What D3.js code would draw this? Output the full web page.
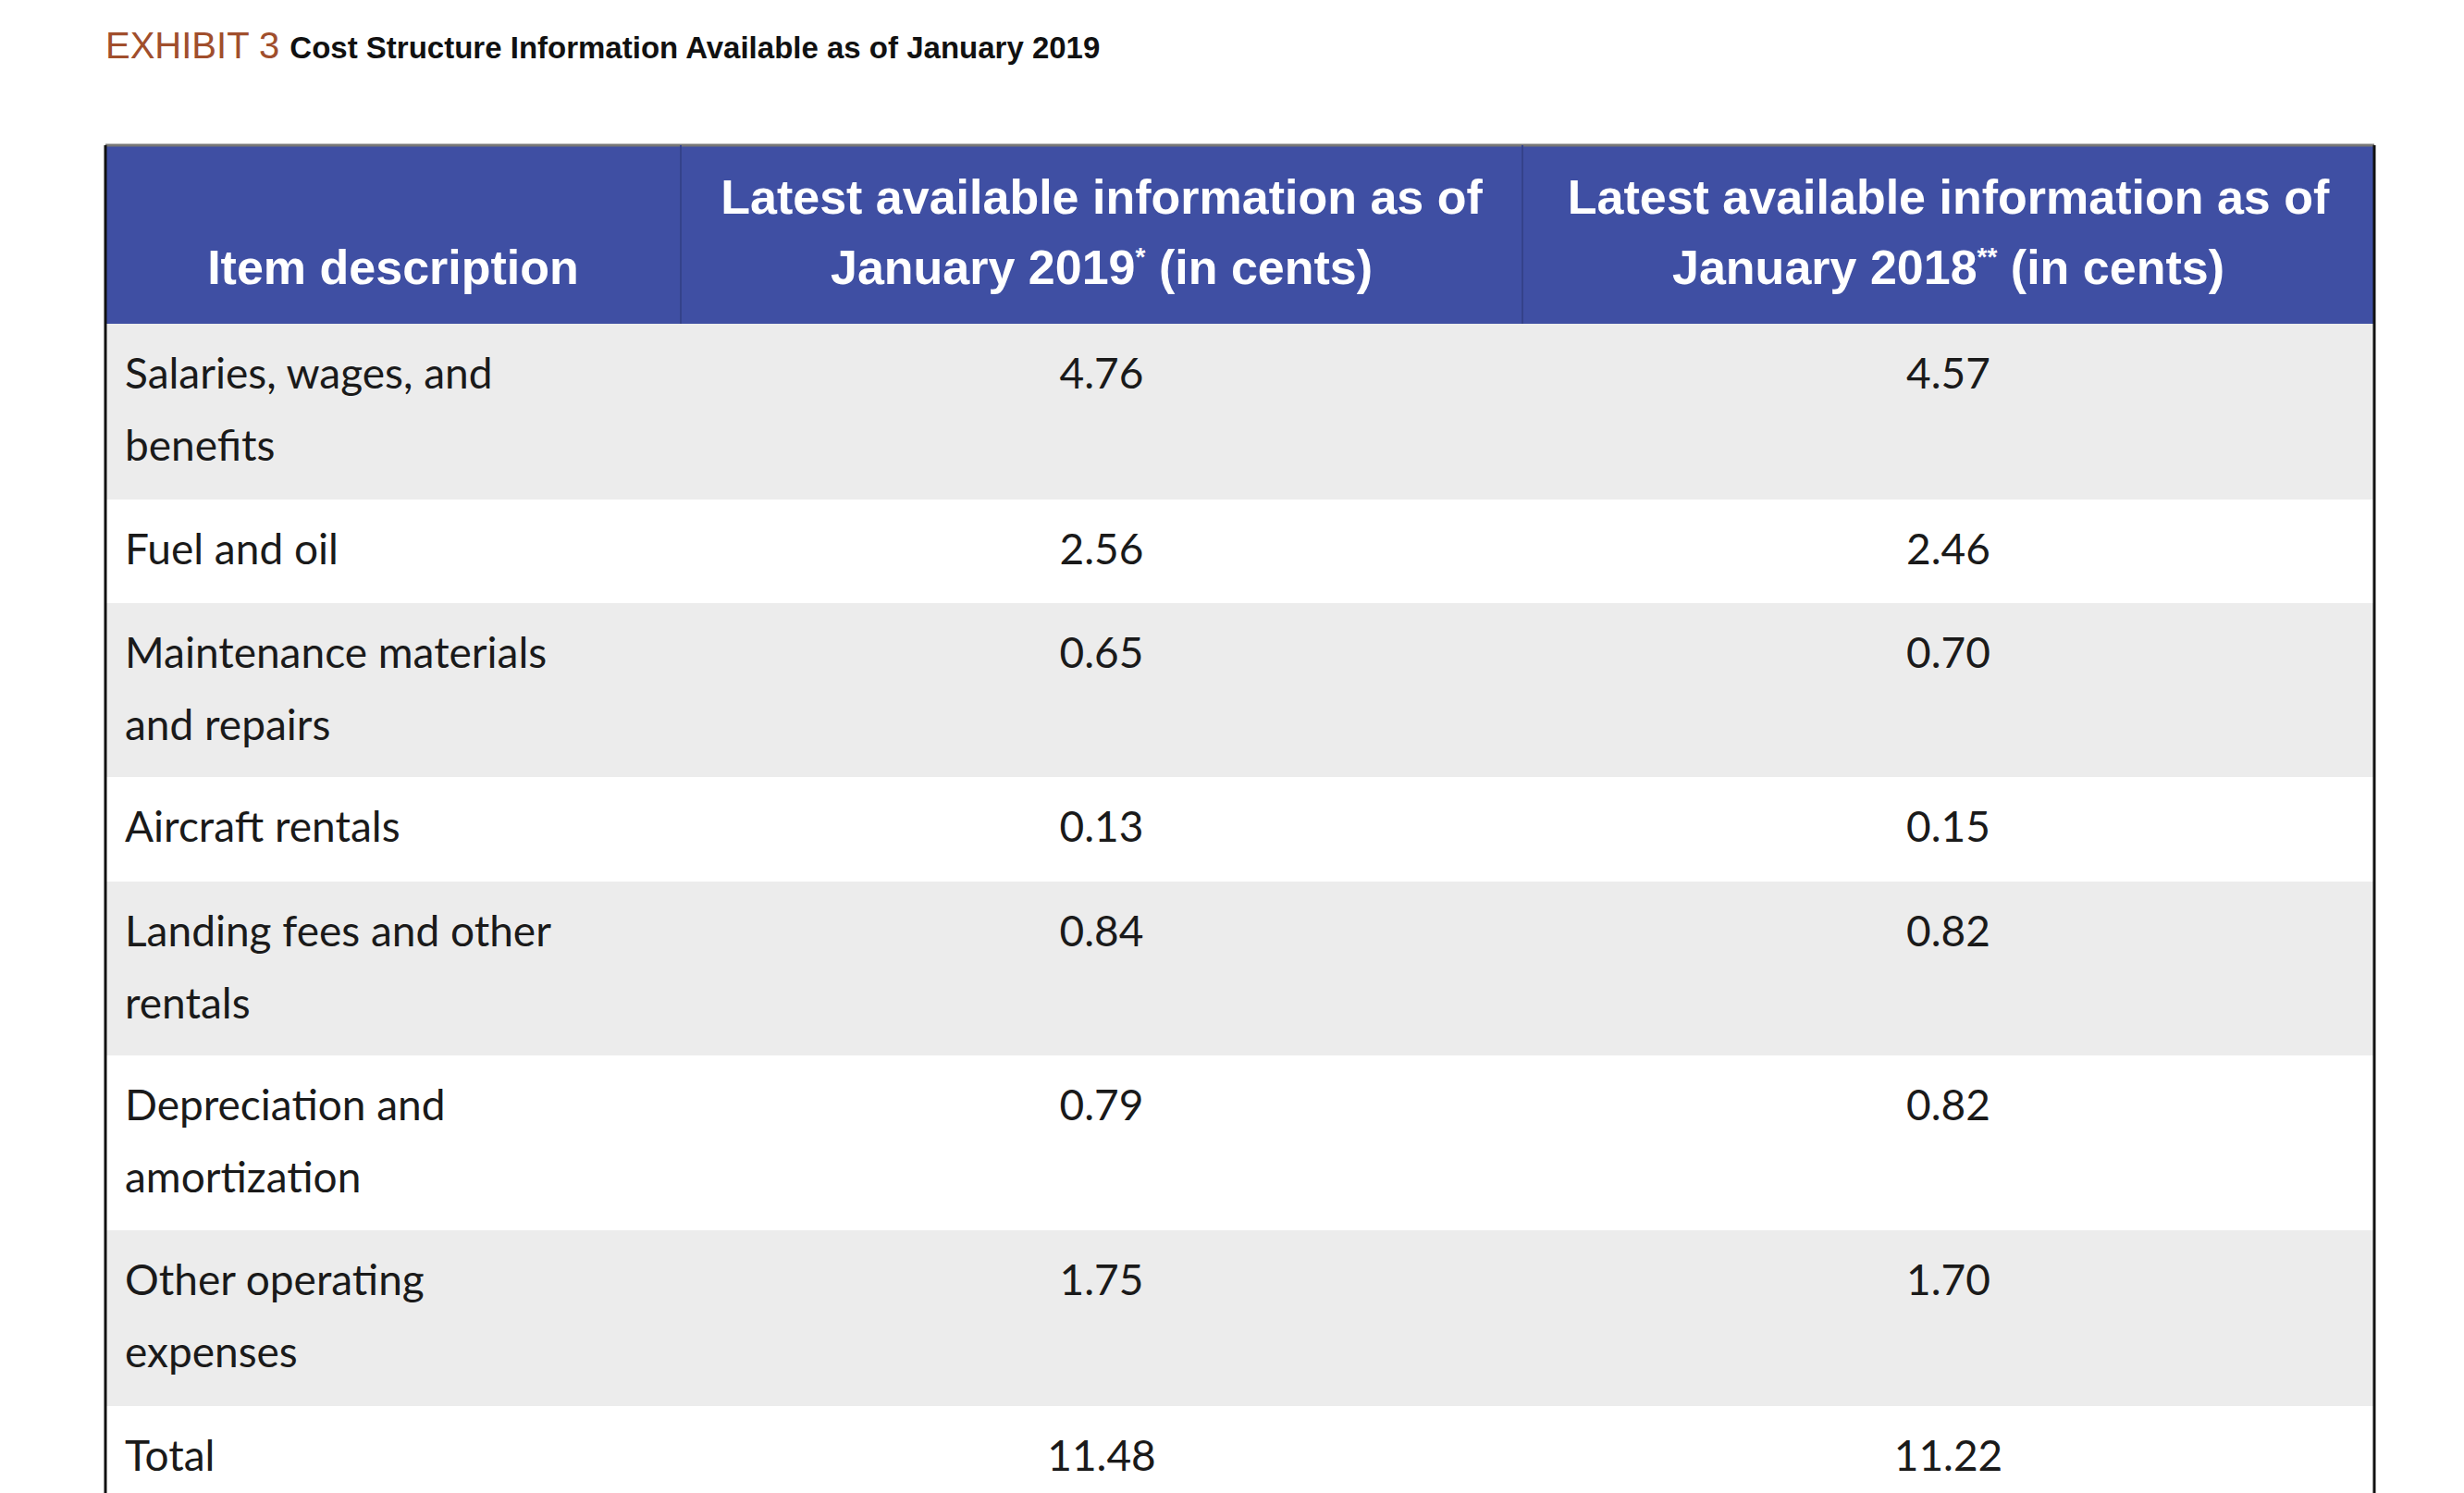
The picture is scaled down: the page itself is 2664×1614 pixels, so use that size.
<!DOCTYPE html>
<html>
<head>
<style>
  body { margin: 0; background: #fff; }
</style>
</head>
<body>
<svg id="tbl" width="2664" height="1614"></svg>
<script src="https://cdn.jsdelivr.net/npm/d3@7"></script>
<script>
// data
const items = [
  ['Salaries, wages, and', 'benefits'],
  ['Fuel and oil'],
  ['Maintenance materials', 'and repairs'],
  ['Aircraft rentals'],
  ['Landing fees and other', 'rentals'],
  ['Depreciation and', 'amortization'],
  ['Other operating', 'expenses'],
  ['Total']
]
const jan2019 = ['4.76', '2.56', '0.65', '0.13', '0.84', '0.79', '1.75', '11.48']
const jan2018 = ['4.57', '2.46', '0.70', '0.15', '0.82', '0.82', '1.70', '11.22']
const rowHeights = [190, 112, 188, 113, 188, 189, 190, 113]

const svg = d3.select('#tbl')
const left = 114, right = 2567, c1 = 736, c2 = 1646
const headTop = 157, headBottom = 350
const narrow = '"Liberation Sans Narrow", "Liberation Sans", sans-serif'
const body = 'Lato, "Open Sans", sans-serif'

// title
const title = svg.append('text').attr('x', left).attr('y', 63).attr('font-family', narrow)
title.append('tspan').attr('fill', '#a04e2c').attr('font-size', 40).text('EXHIBIT 3 ')
title.append('tspan').attr('fill', '#111').attr('font-size', 33).attr('font-weight', 'bold').text('Cost Structure Information Available as of January 2019')

// header
svg.append('rect').attr('x', left).attr('y', headTop).attr('width', right - left).attr('height', headBottom - headTop).attr('fill', '#3f4fa3')
svg.append('line').attr('x1', left).attr('x2', right).attr('y1', headTop).attr('y2', headTop).attr('stroke', '#777').attr('stroke-width', 3)
;[c1, c2].forEach(x => svg.append('line').attr('x1', x).attr('x2', x).attr('y1', headTop).attr('y2', headBottom).attr('stroke', '#34428a').attr('stroke-width', 2))

const hText = (x, y, parts) => {
  const t = svg.append('text').attr('x', x).attr('y', y).attr('text-anchor', 'middle')
    .attr('font-family', narrow).attr('font-weight', 'bold').attr('font-size', 52).attr('fill', '#fff')
  parts.forEach(p => {
    const s = t.append('tspan').text(p[0])
    if (p[1]) s.attr('font-size', 28).attr('dy', -20)
    if (p[2]) s.attr('dy', 20)
  })
}
hText((left + c1) / 2, 307, [['Item description']])
hText((c1 + c2) / 2, 231, [['Latest available information as of']])
hText((c1 + c2) / 2, 307, [['January 2019'], ['*', true], [' (in cents)', false, true]])
hText((c2 + right) / 2, 231, [['Latest available information as of']])
hText((c2 + right) / 2, 307, [['January 2018'], ['**', true], [' (in cents)', false, true]])

// rows
const tops = []
rowHeights.reduce((acc, h) => { tops.push(acc); return acc + h }, headBottom)

const rows = svg.selectAll('g.row').data(items).enter().append('g')
  .attr('transform', (d, i) => `translate(0,${tops[i]})`)
rows.append('rect').attr('x', left).attr('width', right - left)
  .attr('height', (d, i) => rowHeights[i])
  .attr('fill', (d, i) => i % 2 === 0 && i < 7 ? '#ececec' : '#fff')
rows.each(function (d, i) {
  const g = d3.select(this)
  d.forEach((line, k) => {
    g.append('text').attr('x', 135).attr('y', 70 + k * 78)
      .attr('font-family', body).attr('font-size', 46).attr('fill', '#1a1a1a').text(line)
  })
  ;[[jan2019[i], (c1 + c2) / 2], [jan2018[i], (c2 + right) / 2]].forEach(v => {
    g.append('text').attr('x', v[1]).attr('y', 70).attr('text-anchor', 'middle')
      .attr('font-family', body).attr('font-size', 46).attr('fill', '#1a1a1a').text(v[0])
  })
})

// outer borders
const bottom = tops[7] + rowHeights[7]
svg.append('line').attr('x1', left).attr('x2', left).attr('y1', headTop).attr('y2', bottom).attr('stroke', '#111').attr('stroke-width', 3)
svg.append('line').attr('x1', right).attr('x2', right).attr('y1', headTop).attr('y2', bottom).attr('stroke', '#111').attr('stroke-width', 3)
</script>
</body>
</html>
